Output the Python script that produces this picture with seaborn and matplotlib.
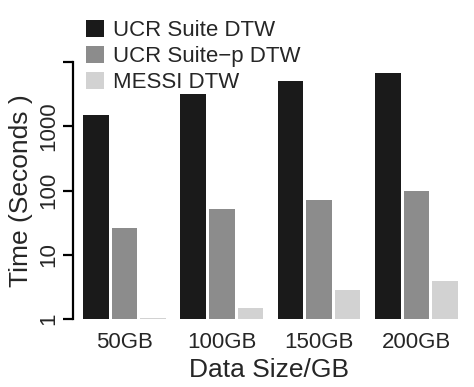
import matplotlib
matplotlib.use("Agg")
import matplotlib.pyplot as plt
import seaborn as sns
import pandas as pd

sizes = ["50GB", "100GB", "150GB", "200GB"]
methods = ["UCR Suite DTW", "UCR Suite\u2212p DTW", "MESSI DTW"]
ucr = [1480, 3160, 5000, 6700]
ucr_p = [26, 52, 72, 97]
messi = [1.05, 1.5, 2.85, 3.9]
colors = ["#1a1a1a", "#8c8c8c", "#d2d2d2"]
yticks = [1, 10, 100, 1000, 10000]
yticklabels = ["1", "10", "100", "1000", ""]

rows = []
for m, vals in zip(methods, [ucr, ucr_p, messi]):
    for s, v in zip(sizes, vals):
        rows.append({"size": s, "time": v, "method": m})
df = pd.DataFrame(rows)

sns.set_style("white")
plt.rcParams["font.family"] = ["Liberation Sans", "DejaVu Sans"]

W, H = 474, 387
fig = plt.figure(figsize=(W / 100, H / 100), dpi=100)
ax = fig.add_axes([73 / W, (H - 319) / H, (465 - 73) / W, (319 - 62) / H])

sns.barplot(data=df, x="size", y="time", hue="method", order=sizes,
            hue_order=methods, palette=colors, width=0.88, gap=0.1,
            ax=ax, legend=True, saturation=1, linewidth=0)
ax.set_yscale("log")
ax.set_ylim(1, 10000)
ax.set_xlim(-0.53, 3.5)

for sp in ["top", "right", "bottom"]:
    ax.spines[sp].set_visible(False)
ax.spines["left"].set_linewidth(1.6)
ax.spines["left"].set_color("black")

ax.set_yticks(yticks)
ax.set_yticks([], minor=True)
ax.set_yticklabels(yticklabels, rotation=90, va="center", fontsize=16)
ax.tick_params(axis="y", length=7, width=1.6, color="black", pad=3, left=True)
ax.tick_params(axis="x", length=0, labelsize=16, pad=9)
ax.set_xlabel("Data Size/GB", fontsize=19, labelpad=4)
ax.set_ylabel("Time (Seconds )", fontsize=19, labelpad=4)

handles, labels = ax.get_legend_handles_labels()
ax.legend(handles, labels, loc="upper left", frameon=False, fontsize=16,
          bbox_to_anchor=(86 / W, 1 - 20 / H), bbox_transform=fig.transFigure,
          handlelength=0.8, handleheight=0.8, handletextpad=0.4,
          labelspacing=0.22, borderpad=0, borderaxespad=0)

fig.savefig("out.png", dpi=100)
